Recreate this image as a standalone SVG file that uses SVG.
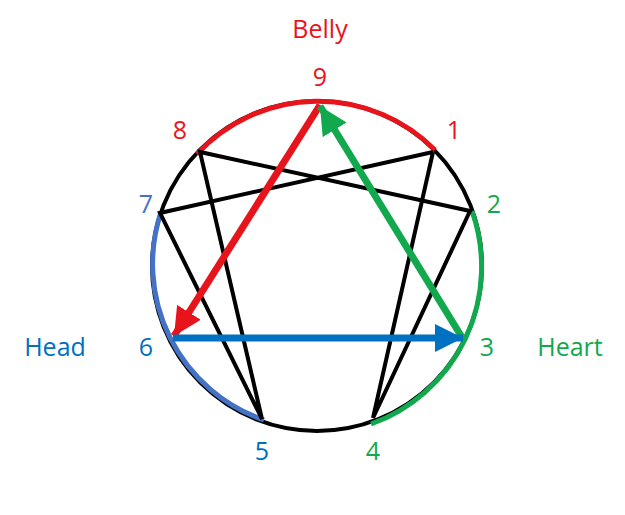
<svg xmlns="http://www.w3.org/2000/svg" width="625" height="515" viewBox="0 0 625 515">
<style>
text{font-family:"Open Sans","Liberation Sans",sans-serif;font-size:25px;text-anchor:middle}
.r{fill:#E8141C}.g{fill:#12A84E}.b{fill:#0070C0}.lb{fill:#4472C4}
.k{stroke:#000;stroke-width:4;fill:none}
</style>
<defs>
<marker id="mr" markerWidth="4" markerHeight="4" refX="4" refY="2" orient="auto" markerUnits="strokeWidth"><path d="M0,0L4,2L0,4Z" fill="#E8141C"/></marker>
<marker id="mg" markerWidth="4" markerHeight="4" refX="4" refY="2" orient="auto" markerUnits="strokeWidth"><path d="M0,0L4,2L0,4Z" fill="#12A84E"/></marker>
<marker id="mb" markerWidth="4" markerHeight="4" refX="4" refY="2" orient="auto" markerUnits="strokeWidth"><path d="M0,0L4,2L0,4Z" fill="#0070C0"/></marker>
</defs>
<g id="circle"><circle cx="317" cy="266" r="165" class="k"/></g>
<g id="arcs" fill="none" stroke-width="5">
<path d="M197,154 A165,165 0 0 1 435,150" stroke="#E8141C"/>
<path d="M161,212 A165,165 0 0 0 264,420" stroke="#4472C4"/>
<path d="M472,211 A167,167 0 0 1 371,424" stroke="#12A84E"/>
</g>
<g id="connectors">
<polyline class="k" points="433,152 373,418 470,211 200,152 262,419 160,213 433,152"/>
<line x1="320" y1="105" x2="174" y2="336" stroke="#E8141C" stroke-width="7" marker-end="url(#mr)"/>
<line x1="463" y1="339" x2="320" y2="106" stroke="#12A84E" stroke-width="7" marker-end="url(#mg)"/>
<line x1="173" y1="338" x2="463" y2="338" stroke="#0070C0" stroke-width="7" marker-end="url(#mb)"/>
</g>
<g id="labels">
<text x="320" y="38" class="r">Belly</text>
<text x="320" y="86" class="r">9</text>
<text x="180" y="139" class="r">8</text>
<text x="454" y="139" class="r">1</text>
<text x="146" y="213" class="lb">7</text>
<text x="494" y="213" class="g">2</text>
<text x="146" y="356" class="b">6</text>
<text x="487" y="356" class="g">3</text>
<text x="262" y="460" class="b">5</text>
<text x="373" y="460" class="g">4</text>
<text x="55" y="356" class="b">Head</text>
<text x="570" y="356" class="g">Heart</text>
</g>
</svg>
